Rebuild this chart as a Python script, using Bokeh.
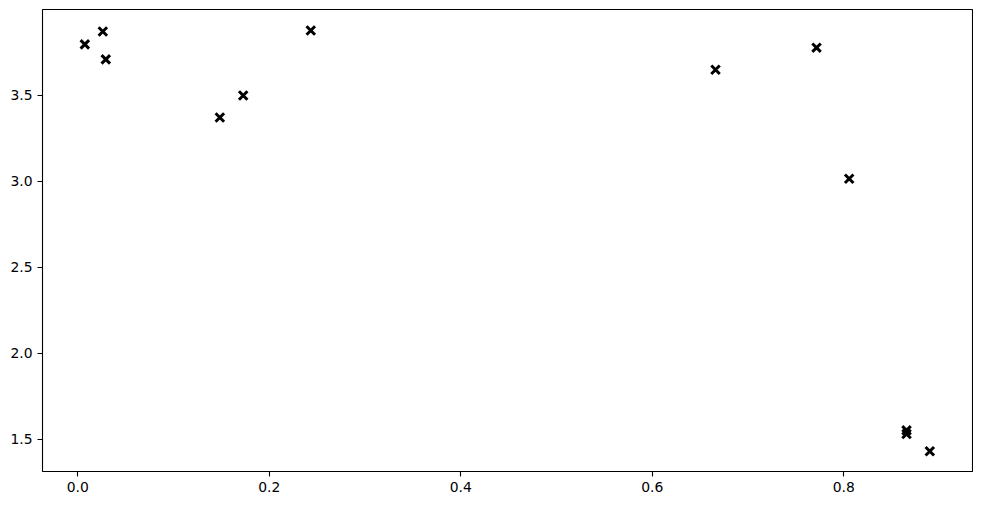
from bokeh.plotting import figure
from bokeh.models import FixedTicker, NumeralTickFormatter, Range1d
from bokeh.embed import file_html
from bokeh.resources import INLINE

x_vals = [0.0073, 0.0261, 0.0292, 0.1483, 0.1727, 0.2433, 0.6660, 0.7715, 0.8056, 0.8655, 0.8655, 0.8898]
y_vals = [3.795, 3.870, 3.708, 3.370, 3.498, 3.876, 3.648, 3.776, 3.014, 1.551, 1.530, 1.430]
x_ticks = [0.0, 0.2, 0.4, 0.6, 0.8]
y_ticks = [1.5, 2.0, 2.5, 3.0, 3.5]

p = figure(frame_width=930, frame_height=462, output_backend="svg", toolbar_location=None,
           x_range=Range1d(-0.0369, 0.9344), y_range=Range1d(1.312, 3.998),
           min_border_left=42, min_border_top=9, min_border_right=1, min_border_bottom=26)
p.background_fill_color = "white"
p.border_fill_color = "white"
p.outline_line_color = "black"
p.outline_line_width = 1.1
p.xgrid.visible = False
p.ygrid.visible = False

for ax in (p.xaxis[0], p.yaxis[0]):
    ax.axis_line_color = None
    ax.major_tick_line_color = "black"
    ax.major_tick_line_width = 1.1
    ax.major_tick_out = 5
    ax.major_tick_in = 0
    ax.minor_tick_line_color = None
    ax.major_label_text_font = "DejaVu Sans"
    ax.major_label_text_font_size = "13.9px"
    ax.major_label_text_color = "black"
    ax.major_label_standoff = 5
    ax.formatter = NumeralTickFormatter(format="0.0")

p.xaxis[0].ticker = FixedTicker(ticks=x_ticks)
p.yaxis[0].ticker = FixedTicker(ticks=y_ticks)

p.scatter(x_vals, y_vals, marker="x", size=12, line_color="black", line_width=3)

open("out.html", "w").write(file_html(p, INLINE))
